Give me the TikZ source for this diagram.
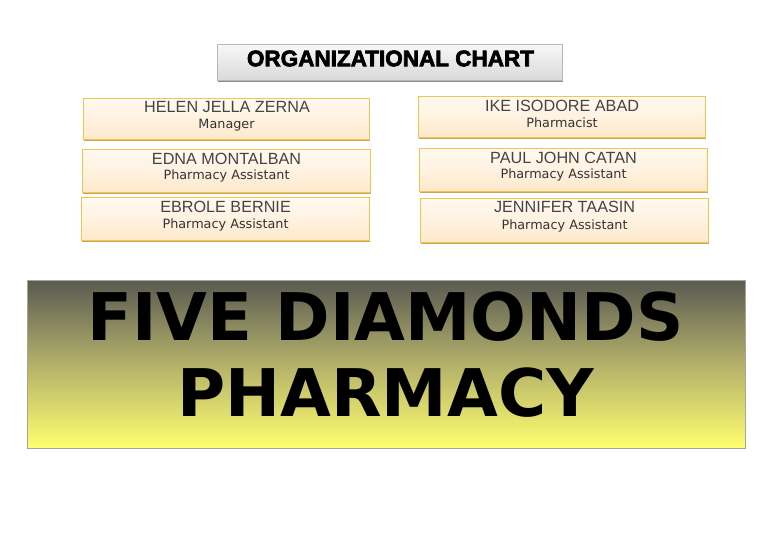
\documentclass[tikz,border=0pt]{standalone}
\usepackage{fontspec}
\setmainfont{Liberation Sans}
\newfontfamily\dejavu{DejaVu Sans}
\usetikzlibrary{calc,shadows}
\definecolor{nameink}{HTML}{444444}
\definecolor{roleink}{HTML}{333333}
\definecolor{boxedge}{HTML}{F2C64E}
\definecolor{boxshade}{HTML}{C4A75E}
\definecolor{boxtop}{HTML}{FFF9F0}
\definecolor{boxmid}{HTML}{FFF2E0}
\definecolor{boxbottom}{HTML}{FEE8CB}
\definecolor{bannertop}{HTML}{5A5A52}
\definecolor{bannermid}{HTML}{B4B16A}
\definecolor{bannerbottom}{HTML}{FFFF70}
\definecolor{banneredge}{HTML}{A6A696}
\tikzset{
  x=1pt,y=-1pt,
  staffbox/.style={draw=boxedge,line width=1.1pt,top color=boxtop,bottom color=boxbottom,middle color=boxmid,
    inner sep=0,anchor=north west,
    drop shadow={shadow xshift=0pt,shadow yshift=-1.5pt,fill=boxshade,opacity=1}},
  namelabel/.style={font=\fontsize{16.2}{18}\selectfont,text=nameink,inner sep=0,anchor=center},
  rolelabel/.style={font=\dejavu\fontsize{12.8}{15}\selectfont,text=roleink,inner sep=0,anchor=center},
}
\begin{document}
\begin{tikzpicture}
\useasboundingbox (0.5,0) rectangle (768.5,543);
\node[draw=black!28,line width=1pt,top color=black!3,bottom color=black!15,inner sep=0,anchor=north west,
  minimum width=345pt,minimum height=36pt,
  drop shadow={shadow xshift=0pt,shadow yshift=-1.5pt,fill=black!45,opacity=1}] (title) at (217.5,44) {};
\node[font=\bfseries\fontsize{22.5}{24}\selectfont,text=black,inner sep=0] at (391,58.5) {\addfontfeature{FakeBold=3}ORGANIZATIONAL CHART};

\node[staffbox,minimum width=286pt,minimum height=41pt] (helen) at (83.5,98) {};
\node[namelabel] at ($(helen.north)+(0.5,9.5)$) {HELEN JELLA ZERNA};
\node[rolelabel] at ($(helen.north)+(0,27)$) {Manager};

\node[staffbox,minimum width=288pt,minimum height=43pt] (edna) at (82.5,149) {};
\node[namelabel] at ($(edna.north)+(0,9.5)$) {EDNA MONTALBAN};
\node[rolelabel] at ($(edna.north)+(0,26.5)$) {Pharmacy Assistant};

\node[staffbox,minimum width=288pt,minimum height=43pt] (ebrole) at (81.5,197) {};
\node[namelabel] at ($(ebrole.north)+(0,10)$) {EBROLE BERNIE};
\node[rolelabel] at ($(ebrole.north)+(0,27.5)$) {Pharmacy Assistant};

\node[staffbox,minimum width=287pt,minimum height=41pt] (ike) at (418.5,96) {};
\node[namelabel] at ($(ike.north)+(0,9.5)$) {IKE ISODORE ABAD};
\node[rolelabel] at ($(ike.north)+(0,27)$) {Pharmacist};

\node[staffbox,minimum width=288pt,minimum height=43pt] (paul) at (419.5,148) {};
\node[namelabel] at ($(paul.north)+(0,9.5)$) {PAUL JOHN CATAN};
\node[rolelabel] at ($(paul.north)+(0,26.5)$) {Pharmacy Assistant};

\node[staffbox,minimum width=288pt,minimum height=44pt] (jennifer) at (420.5,198) {};
\node[namelabel] at ($(jennifer.north)+(0,9)$) {JENNIFER TAASIN};
\node[rolelabel] at ($(jennifer.north)+(0,27.5)$) {Pharmacy Assistant};

\node[draw=banneredge,line width=.8pt,top color=bannertop,bottom color=bannerbottom,
  middle color=bannermid,inner sep=0,anchor=north west,
  minimum width=718pt,minimum height=168pt] (banner) at (27.5,280) {};
\node[font=\dejavu\bfseries\fontsize{65.7}{76}\selectfont,align=center,text=black,inner sep=0] at (386,355) {FIVE DIAMONDS\\PHARMACY};
\end{tikzpicture}
\end{document}
